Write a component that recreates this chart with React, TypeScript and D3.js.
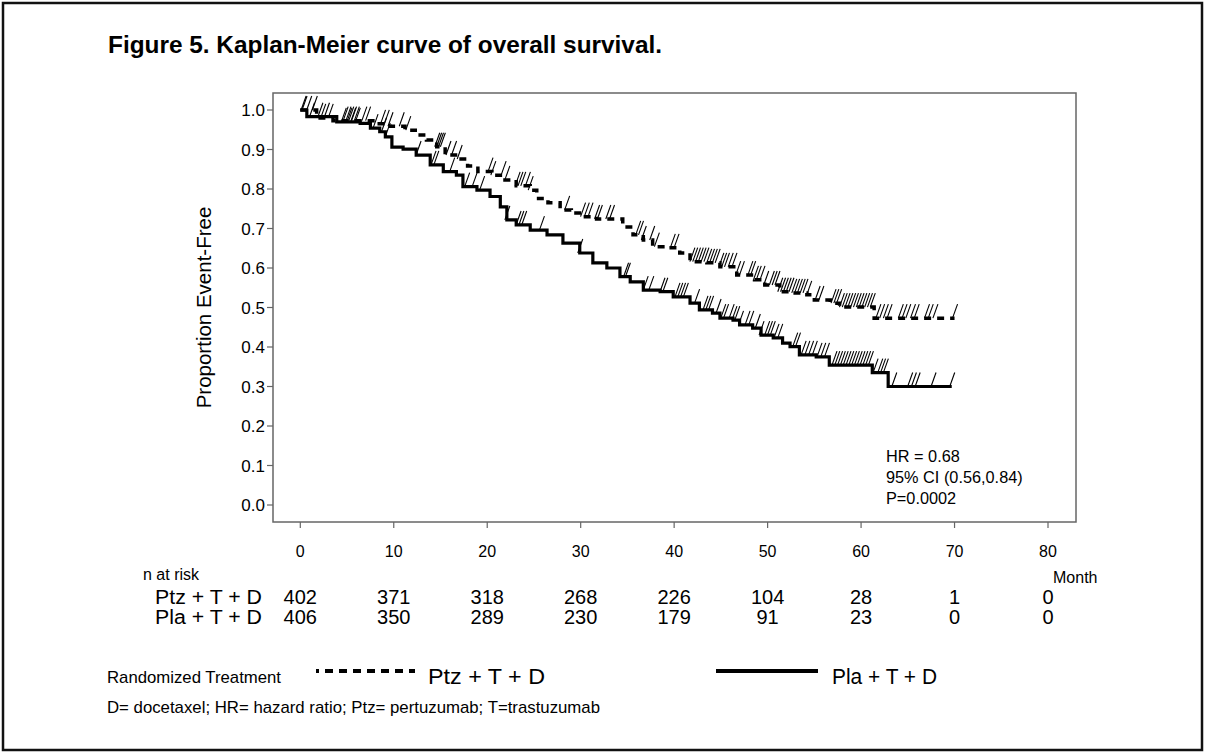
import React from 'react';
import * as d3 from 'd3';

// Kaplan-Meier steps: [month, proportion event-free after the step]
const ptzSteps: [number, number][] = [
  [0, 1.0], [1.75, 0.98], [3.5, 0.973], [8.2, 0.965], [9.6, 0.959], [11.2, 0.949], [12.3, 0.937],
  [13.5, 0.924], [14.6, 0.907], [15.5, 0.886], [16.9, 0.876], [17.9, 0.858], [19.0, 0.844],
  [20.5, 0.835], [21.9, 0.823], [23.1, 0.808], [24.6, 0.797], [25.3, 0.776], [26.5, 0.765],
  [27.8, 0.747], [29.0, 0.739], [30.2, 0.73], [31.7, 0.724], [34.5, 0.704], [35.6, 0.684],
  [36.7, 0.671], [37.7, 0.654], [39.3, 0.651], [40.6, 0.638], [41.7, 0.616], [43.5, 0.613],
  [44.9, 0.603], [46.7, 0.582], [48.6, 0.57], [49.7, 0.557], [51.3, 0.54], [52.7, 0.537],
  [54.2, 0.532], [55.0, 0.519], [56.7, 0.511], [57.7, 0.501], [61.4, 0.473],
];
const ptzEnd = 70.0;

const plaSteps: [number, number][] = [
  [0, 1.0], [0.7, 0.983], [3.9, 0.97], [6.4, 0.966], [7.5, 0.954], [8.5, 0.945], [9.1, 0.932],
  [9.8, 0.906], [11.0, 0.901], [12.4, 0.886], [13.9, 0.861], [15.3, 0.844], [16.7, 0.835],
  [17.4, 0.806], [18.9, 0.797], [20.3, 0.781], [21.4, 0.755], [22.1, 0.722], [23.1, 0.709],
  [24.6, 0.696], [26.4, 0.684], [28.1, 0.663], [29.9, 0.638], [31.3, 0.613], [32.8, 0.6],
  [34.2, 0.578], [35.3, 0.565], [36.7, 0.544], [38.5, 0.54], [39.9, 0.527], [41.7, 0.511],
  [42.7, 0.494], [44.1, 0.486], [44.9, 0.473], [46.3, 0.468], [47.0, 0.456], [48.4, 0.448],
  [49.3, 0.43], [50.6, 0.423], [51.6, 0.41], [52.4, 0.401], [53.4, 0.38], [55.2, 0.375],
  [56.6, 0.354], [61.2, 0.335], [62.9, 0.3],
];
const plaEnd = 69.7;

// censored observations (months)
const ptzCensored = [
  0.3, 0.9, 1.5, 2.4, 3.2, 4.8, 5.1, 5.4, 5.7, 6.0, 6.8, 7.2, 8.8, 9.2, 9.6, 10.8, 11.5, 14.6, 14.8,
  15.0, 15.2, 15.8, 16.4, 17.0, 20.3, 20.6, 21.7, 22.1, 23.2, 23.5, 23.8, 24.3, 24.6, 28.5, 30.2,
  30.6, 31.0, 31.7, 32.0, 32.9, 33.3, 36.1, 36.4, 36.7, 37.6, 38.1, 39.8, 40.2, 41.9, 42.2, 42.5,
  42.8, 43.1, 43.4, 43.7, 44.0, 44.3, 44.6, 45.0, 45.3, 45.6, 46.0, 46.4, 46.8, 47.2, 48.1, 48.4,
  48.7, 49.0, 49.4, 49.8, 50.4, 50.7, 51.0, 51.3, 51.6, 51.9, 52.2, 52.5, 52.8, 53.1, 53.4, 53.7,
  54.0, 54.4, 55.3, 55.7, 57.0, 57.3, 57.6, 57.9, 58.2, 58.5, 58.8, 59.1, 59.4, 59.7, 60.0, 60.3,
  60.6, 60.9, 61.2, 61.8, 62.2, 62.6, 63.0, 64.2, 64.6, 65.0, 65.5, 65.9, 67.0, 67.4, 67.9, 70.0,
];
const plaCensored = [
  0.4, 1.2, 2.1, 2.8, 4.6, 5.2, 5.6, 6.1, 8.0, 8.9, 9.3, 12.6, 14.2, 14.5, 16.2, 17.8, 18.6, 19.4,
  22.1, 23.3, 23.6, 23.9, 25.8, 29.9, 34.8, 35.0, 36.9, 37.5, 38.7, 39.0, 40.3, 40.6, 40.9, 41.2,
  42.4, 43.3, 43.6, 43.9, 44.7, 45.2, 45.5, 46.1, 46.4, 46.7, 47.1, 47.8, 48.2, 48.9, 49.3, 49.9,
  50.2, 50.5, 50.9, 51.3, 52.9, 53.2, 53.8, 54.2, 54.6, 55.0, 55.5, 55.9, 56.3, 57.1, 57.4, 57.7,
  58.0, 58.3, 58.6, 58.9, 59.2, 59.5, 59.8, 60.1, 60.4, 60.7, 61.0, 61.5, 62.0, 62.3, 62.6, 63.5,
  65.2, 65.6, 66.0, 67.7, 69.7,
];

const monthTicks = [0, 10, 20, 30, 40, 50, 60, 70, 80];
const survTicks = [0, 0.1, 0.2, 0.3, 0.4, 0.5, 0.6, 0.7, 0.8, 0.9, 1.0];
const ptzAtRisk = [402, 371, 318, 268, 226, 104, 28, 1, 0];
const plaAtRisk = [406, 350, 289, 230, 179, 91, 23, 0, 0];
const armLabels = ['Ptz + T + D', 'Pla + T + D'];
const statLines = ['HR = 0.68', '95% CI (0.56,0.84)', 'P=0.0002'];

const W = 1206;
const H = 754;
const box = { left: 273, right: 1076, top: 93, bottom: 522 };
const font = "'Liberation Sans', Arial, Helvetica, sans-serif";

const x = d3.scaleLinear().domain([0, 80]).range([300.3, 1048]);
const y = d3.scaleLinear().domain([0, 1]).range([505, 110]);

const kmLine = d3.line<[number, number]>()
  .x(d => x(d[0]))
  .y(d => y(d[1]))
  .curve(d3.curveStepAfter);

function stepPath(steps: [number, number][], end: number) {
  const last = steps[steps.length - 1];
  return kmLine([...steps, [end, last[1]]]) ?? '';
}

function survAt(steps: [number, number][], t: number) {
  let s = steps[0][1];
  for (const [m, v] of steps) {
    if (m <= t) s = v;
  }
  return s;
}

function CensorMarks({ steps, times }: { steps: [number, number][]; times: number[] }) {
  return (
    <g stroke="#000" strokeWidth={1.1}>
      {times.map((t, i) => {
        const px = x(t);
        const py = y(survAt(steps, t));
        return <line key={i} x1={px - 2} y1={py} x2={px + 3} y2={py - 14} />;
      })}
    </g>
  );
}

export default function App() {
  return (
    <svg width={W} height={H} style={{ position: 'absolute', left: 0, top: 0, background: '#fff' }}
      fontFamily={font}>
      <rect x={0} y={0} width={W} height={H} fill="#fff" />
      <rect x={3} y={3} width={1199} height={747} fill="none" stroke="#111" strokeWidth={2.5} />

      <text x={108} y={53} fontSize={23.5} fontWeight="bold" fill="#000" textLength={554}
        lengthAdjust="spacingAndGlyphs">
        Figure 5. Kaplan-Meier curve of overall survival.
      </text>

      {/* plot frame */}
      <rect x={box.left} y={box.top} width={box.right - box.left} height={box.bottom - box.top}
        fill="none" stroke="#666" strokeWidth={1.5} />

      {/* y axis */}
      {survTicks.map(v => (
        <g key={v}>
          <line x1={box.left - 6} x2={box.left} y1={y(v)} y2={y(v)} stroke="#666" strokeWidth={1.2} />
          <text x={box.left - 8} y={y(v)} dy="0.36em" textAnchor="end" fontSize={17}>{v.toFixed(1)}</text>
        </g>
      ))}
      <text transform={`translate(211,${(box.top + box.bottom) / 2}) rotate(-90)`} textAnchor="middle"
        fontSize={20.5}>Proportion Event-Free</text>

      {/* x axis */}
      {monthTicks.map(m => (
        <g key={m}>
          <line x1={x(m)} x2={x(m)} y1={box.bottom} y2={box.bottom + 6} stroke="#666" strokeWidth={1.2} />
          <text x={x(m)} y={557} textAnchor="middle" fontSize={16}>{m}</text>
        </g>
      ))}

      {/* curves */}
      <path d={stepPath(plaSteps, plaEnd)} fill="none" stroke="#000" strokeWidth={3.2} />
      <path d={stepPath(ptzSteps, ptzEnd)} fill="none" stroke="#000" strokeWidth={3.5}
        strokeDasharray="7,6" />
      <CensorMarks steps={plaSteps} times={plaCensored} />
      <CensorMarks steps={ptzSteps} times={ptzCensored} />

      {statLines.map((s, i) => (
        <text key={s} x={886} y={462 + i * 21} fontSize={16.3}>{s}</text>
      ))}

      {/* numbers at risk */}
      <text x={143} y={580} fontSize={16}>n at risk</text>
      <text x={1053} y={583} fontSize={16}>Month</text>
      {[ptzAtRisk, plaAtRisk].map((row, r) => (
        <g key={r}>
          <text x={155} y={604 + r * 20} fontSize={20} textLength={107} lengthAdjust="spacingAndGlyphs">
            {armLabels[r]}
          </text>
          {row.map((n, i) => (
            <text key={i} x={x(monthTicks[i])} y={604 + r * 20} textAnchor="middle" fontSize={20}>{n}</text>
          ))}
        </g>
      ))}

      {/* legend */}
      <text x={107} y={683} fontSize={17} textLength={174} lengthAdjust="spacingAndGlyphs">Randomized Treatment</text>
      <line x1={316} x2={415} y1={671} y2={671} stroke="#000" strokeWidth={4} strokeDasharray="3,6,8,6,8,6,8,6,8,6,8,6,8,6,8" />
      <text x={428} y={684} fontSize={22} textLength={117} lengthAdjust="spacingAndGlyphs">{armLabels[0]}</text>
      <line x1={716} x2={818} y1={671} y2={671} stroke="#000" strokeWidth={4} />
      <text x={832} y={684} fontSize={22} textLength={105} lengthAdjust="spacingAndGlyphs">{armLabels[1]}</text>

      <text x={107} y={713} fontSize={17} textLength={493} lengthAdjust="spacingAndGlyphs">
        D= docetaxel; HR= hazard ratio; Ptz= pertuzumab; T=trastuzumab
      </text>
    </svg>
  );
}
